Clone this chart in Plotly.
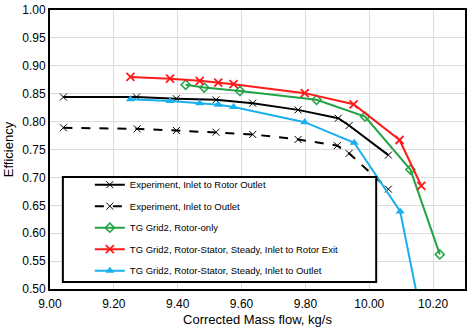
import plotly.graph_objects as go

# Experiment, Inlet to Rotor Outlet
exp_ro_x = [9.042, 9.271, 9.396, 9.520, 9.635, 9.777, 9.903, 9.937, 10.060]
exp_ro_y = [0.844, 0.844, 0.841, 0.839, 0.833, 0.821, 0.806, 0.793, 0.740]
# Experiment, Inlet to Outlet
exp_io_x = [9.042, 9.273, 9.396, 9.520, 9.635, 9.777, 9.900, 9.937, 10.060]
exp_io_y = [0.789, 0.787, 0.784, 0.781, 0.777, 0.768, 0.757, 0.743, 0.679]
# TG Grid2, Rotor-only
ro_x = [9.425, 9.483, 9.595, 9.835, 9.987, 10.129, 10.221]
ro_y = [0.866, 0.861, 0.855, 0.839, 0.809, 0.714, 0.562]
# TG Grid2, Rotor-Stator, Steady, Inlet to Rotor Exit
rs_re_x = [9.252, 9.376, 9.469, 9.527, 9.575, 9.798, 9.951, 10.095, 10.163]
rs_re_y = [0.880, 0.877, 0.873, 0.870, 0.867, 0.851, 0.831, 0.767, 0.685]
# TG Grid2, Rotor-Stator, Steady, Inlet to Outlet
rs_io_x = [9.252, 9.376, 9.469, 9.527, 9.575, 9.798, 9.953, 10.097, 10.165]
rs_io_y = [0.840, 0.837, 0.833, 0.830, 0.826, 0.799, 0.762, 0.639, 0.445]

names = [
    "Experiment, Inlet to Rotor Outlet",
    "Experiment, Inlet to Outlet",
    "TG Grid2, Rotor-only",
    "TG Grid2, Rotor-Stator, Steady, Inlet to Rotor Exit",
    "TG Grid2, Rotor-Stator, Steady, Inlet to Outlet",
]

x_ticks = [9.0, 9.2, 9.4, 9.6, 9.8, 10.0, 10.2]
y_ticks = [0.50, 0.55, 0.60, 0.65, 0.70, 0.75, 0.80, 0.85, 0.90, 0.95, 1.00]

BLACK = "#000000"
GREEN = "#22a345"
RED = "#ff1a1a"
BLUE = "#1ab0ee"

fig = go.Figure()
fig.add_trace(go.Scatter(x=exp_ro_x, y=exp_ro_y, name=names[0], mode="lines+markers",
                         line=dict(color=BLACK, width=2),
                         marker=dict(symbol="x-thin", size=7, line=dict(color=BLACK, width=1))))
fig.add_trace(go.Scatter(x=exp_io_x, y=exp_io_y, name=names[1], mode="lines+markers",
                         line=dict(color=BLACK, width=2, dash="dash"),
                         marker=dict(symbol="x-thin", size=7, line=dict(color=BLACK, width=1))))
fig.add_trace(go.Scatter(x=ro_x, y=ro_y, name=names[2], mode="lines+markers",
                         line=dict(color=GREEN, width=2),
                         marker=dict(symbol="diamond-open", size=7, color=GREEN, line=dict(color=GREEN, width=1.5))))
fig.add_trace(go.Scatter(x=rs_re_x, y=rs_re_y, name=names[3], mode="lines+markers",
                         line=dict(color=RED, width=2),
                         marker=dict(symbol="x-thin", size=8, line=dict(color=RED, width=1.8))))
fig.add_trace(go.Scatter(x=rs_io_x, y=rs_io_y, name=names[4], mode="lines+markers",
                         line=dict(color=BLUE, width=2),
                         marker=dict(symbol="triangle-up", size=8, color=BLUE)))

# legend box
fig.add_shape(type="rect", xref="paper", yref="paper", x0=0.031, x1=0.786, y0=0.025, y1=0.401,
              line=dict(color="black", width=2), fillcolor="white", layer="above")

fig.update_layout(
    width=474, height=330,
    margin=dict(l=50, r=9, t=10, b=41),
    paper_bgcolor="white", plot_bgcolor="white",
    font=dict(family="Liberation Sans, Arial, sans-serif", color="black", size=12),
    showlegend=True,
    legend=dict(x=0.096, y=0.426, xanchor="left", yanchor="top",
                bgcolor="rgba(0,0,0,0)", borderwidth=0,
                font=dict(size=9.5), tracegroupgap=2.5, itemwidth=30),
    xaxis=dict(range=[9.0, 10.3], tickvals=x_ticks, tickformat=".2f",
               showgrid=True, gridcolor="#dcdcdc", gridwidth=1,
               showline=True, linecolor="black", linewidth=2, mirror=True,
               ticks="", zeroline=False, ticklabelstandoff=3, automargin=False,
               title=dict(text="Corrected Mass flow, kg/s", font=dict(size=13), standoff=4)),
    yaxis=dict(range=[0.5, 1.0], tickvals=y_ticks, tickformat=".2f",
               showgrid=True, gridcolor="#dcdcdc", gridwidth=1,
               showline=True, linecolor="black", linewidth=2, mirror=True,
               ticks="", zeroline=False, automargin=False,
               title=dict(text="Efficiency", font=dict(size=13), standoff=6)),
)
for i, t in enumerate(fig.data):
    t.legendgroup = f"g{i}"

fig.write_html("out.html")
